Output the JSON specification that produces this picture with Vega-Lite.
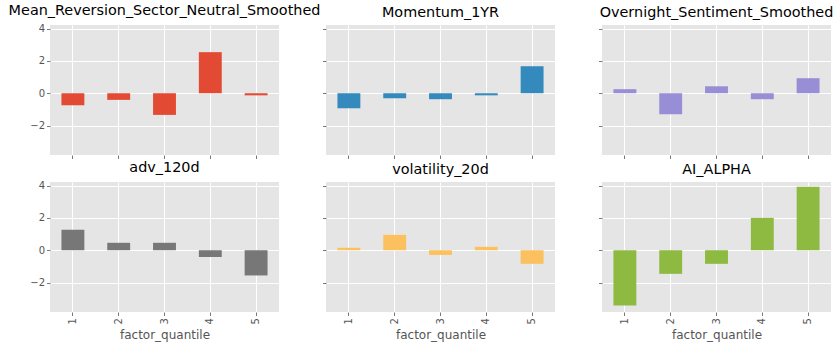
{
  "$schema": "https://vega.github.io/schema/vega-lite/v6.json",
  "padding": {"left": 8, "top": 3, "right": 5, "bottom": 5},
  "background": "#FFFFFF",
  "data": {"values": [
    {"factor": "Mean_Reversion_Sector_Neutral_Smoothed", "quantile": 1, "value": -0.74},
    {"factor": "Mean_Reversion_Sector_Neutral_Smoothed", "quantile": 2, "value": -0.41},
    {"factor": "Mean_Reversion_Sector_Neutral_Smoothed", "quantile": 3, "value": -1.34},
    {"factor": "Mean_Reversion_Sector_Neutral_Smoothed", "quantile": 4, "value": 2.54},
    {"factor": "Mean_Reversion_Sector_Neutral_Smoothed", "quantile": 5, "value": -0.13},
    {"factor": "Momentum_1YR", "quantile": 1, "value": -0.93},
    {"factor": "Momentum_1YR", "quantile": 2, "value": -0.31},
    {"factor": "Momentum_1YR", "quantile": 3, "value": -0.37},
    {"factor": "Momentum_1YR", "quantile": 4, "value": -0.13},
    {"factor": "Momentum_1YR", "quantile": 5, "value": 1.67},
    {"factor": "Overnight_Sentiment_Smoothed", "quantile": 1, "value": 0.25},
    {"factor": "Overnight_Sentiment_Smoothed", "quantile": 2, "value": -1.30},
    {"factor": "Overnight_Sentiment_Smoothed", "quantile": 3, "value": 0.43},
    {"factor": "Overnight_Sentiment_Smoothed", "quantile": 4, "value": -0.37},
    {"factor": "Overnight_Sentiment_Smoothed", "quantile": 5, "value": 0.93},
    {"factor": "adv_120d", "quantile": 1, "value": 1.26},
    {"factor": "adv_120d", "quantile": 2, "value": 0.46},
    {"factor": "adv_120d", "quantile": 3, "value": 0.46},
    {"factor": "adv_120d", "quantile": 4, "value": -0.42},
    {"factor": "adv_120d", "quantile": 5, "value": -1.56},
    {"factor": "volatility_20d", "quantile": 1, "value": 0.15},
    {"factor": "volatility_20d", "quantile": 2, "value": 0.95},
    {"factor": "volatility_20d", "quantile": 3, "value": -0.29},
    {"factor": "volatility_20d", "quantile": 4, "value": 0.21},
    {"factor": "volatility_20d", "quantile": 5, "value": -0.84},
    {"factor": "AI_ALPHA", "quantile": 1, "value": -3.42},
    {"factor": "AI_ALPHA", "quantile": 2, "value": -1.46},
    {"factor": "AI_ALPHA", "quantile": 3, "value": -0.84},
    {"factor": "AI_ALPHA", "quantile": 4, "value": 2.0},
    {"factor": "AI_ALPHA", "quantile": 5, "value": 3.92}
  ]},
  "columns": 3,
  "spacing": {"row": 27, "column": 47},
  "bounds": "flush",
  "concat": [
    {
      "width": 229, "height": 130,
      "title": "Mean_Reversion_Sector_Neutral_Smoothed",
      "transform": [{"filter": "datum.factor === 'Mean_Reversion_Sector_Neutral_Smoothed'"}],
      "mark": {"type": "bar", "color": "#E24A33"},
      "encoding": {
        "x": {"field": "quantile", "type": "ordinal", "scale": {"paddingInner": 0.5, "paddingOuter": 0.25}, "axis": {"labels": false, "title": null, "grid": true, "bandPosition": 0.5}},
        "y": {"field": "value", "type": "quantitative", "scale": {"domain": [-3.82, 4.22], "nice": false}, "axis": {"values": [-2, 0, 2, 4], "title": null, "grid": true}}
      }
    },
    {
      "width": 229, "height": 130,
      "title": "Momentum_1YR",
      "transform": [{"filter": "datum.factor === 'Momentum_1YR'"}],
      "mark": {"type": "bar", "color": "#348ABD"},
      "encoding": {
        "x": {"field": "quantile", "type": "ordinal", "scale": {"paddingInner": 0.5, "paddingOuter": 0.25}, "axis": {"labels": false, "title": null, "grid": true, "bandPosition": 0.5}},
        "y": {"field": "value", "type": "quantitative", "scale": {"domain": [-3.82, 4.22], "nice": false}, "axis": {"values": [-2, 0, 2, 4], "labels": false, "title": null, "grid": true}}
      }
    },
    {
      "width": 229, "height": 130,
      "title": "Overnight_Sentiment_Smoothed",
      "transform": [{"filter": "datum.factor === 'Overnight_Sentiment_Smoothed'"}],
      "mark": {"type": "bar", "color": "#988ED5"},
      "encoding": {
        "x": {"field": "quantile", "type": "ordinal", "scale": {"paddingInner": 0.5, "paddingOuter": 0.25}, "axis": {"labels": false, "title": null, "grid": true, "bandPosition": 0.5}},
        "y": {"field": "value", "type": "quantitative", "scale": {"domain": [-3.82, 4.22], "nice": false}, "axis": {"values": [-2, 0, 2, 4], "labels": false, "title": null, "grid": true}}
      }
    },
    {
      "width": 229, "height": 130,
      "title": "adv_120d",
      "transform": [{"filter": "datum.factor === 'adv_120d'"}],
      "mark": {"type": "bar", "color": "#777777"},
      "encoding": {
        "x": {"field": "quantile", "type": "ordinal", "scale": {"paddingInner": 0.5, "paddingOuter": 0.25}, "axis": {"labelAngle": -90, "title": "factor_quantile", "grid": true, "bandPosition": 0.5}},
        "y": {"field": "value", "type": "quantitative", "scale": {"domain": [-3.82, 4.22], "nice": false}, "axis": {"values": [-2, 0, 2, 4], "title": null, "grid": true}}
      }
    },
    {
      "width": 229, "height": 130,
      "title": "volatility_20d",
      "transform": [{"filter": "datum.factor === 'volatility_20d'"}],
      "mark": {"type": "bar", "color": "#FBC15E"},
      "encoding": {
        "x": {"field": "quantile", "type": "ordinal", "scale": {"paddingInner": 0.5, "paddingOuter": 0.25}, "axis": {"labelAngle": -90, "title": "factor_quantile", "grid": true, "bandPosition": 0.5}},
        "y": {"field": "value", "type": "quantitative", "scale": {"domain": [-3.82, 4.22], "nice": false}, "axis": {"values": [-2, 0, 2, 4], "labels": false, "title": null, "grid": true}}
      }
    },
    {
      "width": 229, "height": 130,
      "title": "AI_ALPHA",
      "transform": [{"filter": "datum.factor === 'AI_ALPHA'"}],
      "mark": {"type": "bar", "color": "#8EBA42"},
      "encoding": {
        "x": {"field": "quantile", "type": "ordinal", "scale": {"paddingInner": 0.5, "paddingOuter": 0.25}, "axis": {"labelAngle": -90, "title": "factor_quantile", "grid": true, "bandPosition": 0.5}},
        "y": {"field": "value", "type": "quantitative", "scale": {"domain": [-3.82, 4.22], "nice": false}, "axis": {"values": [-2, 0, 2, 4], "labels": false, "title": null, "grid": true}}
      }
    }
  ],
  "config": {
    "font": "DejaVu Sans",
    "view": {"fill": "#E5E5E5", "stroke": null},
    "title": {"fontSize": 14.4, "fontWeight": "normal", "color": "#000000", "offset": 5, "font": "DejaVu Sans"},
    "axis": {
      "domain": false,
      "gridColor": "#FFFFFF",
      "gridWidth": 1,
      "gridOpacity": 1,
      "tickColor": "#555555",
      "tickSize": 3.5,
      "tickWidth": 0.8,
      "labelColor": "#555555",
      "labelFontSize": 10,
      "labelFont": "DejaVu Sans",
      "labelPadding": 2,
      "titleFont": "DejaVu Sans",
      "titleFontSize": 12,
      "titleFontWeight": "normal",
      "titleColor": "#555555",
      "titlePadding": 6
    }
  }
}
